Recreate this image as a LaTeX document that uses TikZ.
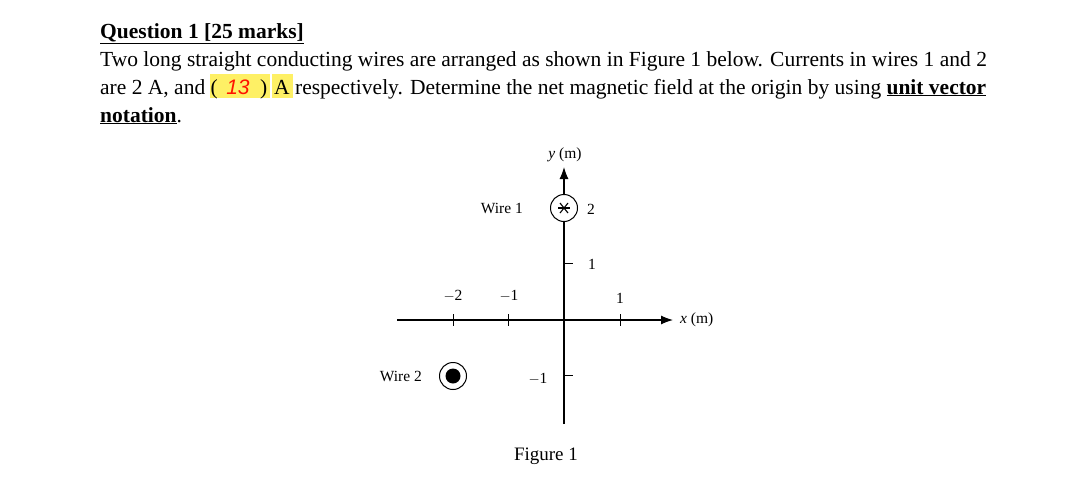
\documentclass[tikz,border=0pt]{standalone}
\usepackage{fontspec}
\setmainfont{Liberation Serif}
\newfontfamily\hand{Liberation Sans}
\usetikzlibrary{arrows.meta}
\begin{document}
\begin{tikzpicture}[x=1pt,y=-1pt,
  body/.style={anchor=base west,inner sep=0pt,font=\fontsize{21.5}{24}\selectfont},
  lab/.style={inner sep=0pt,font=\fontsize{15.5}{18}\selectfont},
  axis/.style={line width=1.1pt},
  tick/.style={line width=0.9pt}]
\useasboundingbox (0,0) rectangle (1080,477);
\fill[white] (0,0) rectangle (1080,477);
% highlights
\fill[yellow!90!orange!60] (210,74) rectangle (270,98);
\fill[yellow!90!orange!60] (272,74) rectangle (293,98);
\node[body] (t0) at (100,38) {\textbf{\underline{Question 1 [25 marks]}}};
\node[body] (t1) at (100,66) {Two long straight conducting wires are arranged as shown in Figure 1 below. Currents in wires 1 and 2};
\node[body] (t2a) at (100,94) {are 2 A, and (};
\node[body] (t2b) at (260,94) {)};
\node[body] (t2c) at (274,94) {A respectively. Determine the net magnetic field at the origin by using \textbf{\underline{unit vector}}};
\node[body] (t3) at (100,122) {\textbf{\underline{notation}}.};
\node[inner sep=0pt,text=red!85!orange,font=\hand\itshape\fontsize{21}{22}\selectfont] (h) at (238,87) {13};
% axes
\coordinate (O) at (564,320);
\coordinate (xl) at (397,320);
\coordinate (xr) at (673,320);
\coordinate (yb) at (564,424);
\coordinate (yt) at (564,167);
\draw[axis,-{Latex[length=12pt,width=9pt]}] (xl) -- (xr);
\draw[axis,-{Latex[length=12pt,width=9pt]}] (yb) -- (yt);
\foreach \i/\xx in {a/453,b/508,c/620} \draw[tick] (\xx,314) -- (\xx,326);
\draw[tick] (564,263) -- (573,263);
\draw[tick] (564,375) -- (573,375);
\node[lab] (lm2) at (453,296) {$-$2};
\node[lab] (lm1) at (509,296) {$-$1};
\node[lab] (lp1) at (620,298) {1};
\node[lab] (ly1) at (592,264) {1};
\node[lab] (lym1) at (538,379) {$-$1};
\node[lab,anchor=west] (xlab) at (680,320) {\textit{x} (m)};
\node[lab] (ylab) at (565,155) {\textit{y} (m)};
% wires
\node[draw,circle,minimum size=27pt,inner sep=0pt,line width=1pt,fill=white] (w1) at (564,208) {};
\draw[line width=1.1pt] (w1.center) ++(-6,0) -- ++(12,0);
\draw[line width=1.1pt] (w1.center) ++(-4,-5) -- ++(8,10);
\draw[line width=1.1pt] (w1.center) ++(4,-5) -- ++(-8,10);
\node[lab,anchor=east] (w1l) at (523,208) {Wire 1};
\node[lab] (w1n) at (591,209) {2};
\node[draw,circle,minimum size=27pt,inner sep=0pt,line width=1pt] (w2) at (453,376) {};
\fill (w2.center) circle (7.5pt);
\node[lab,anchor=east] (w2l) at (422,376) {Wire 2};
\node[inner sep=0pt,font=\fontsize{19}{22}\selectfont] (fig) at (546,456) {Figure 1};
\end{tikzpicture}
\end{document}
